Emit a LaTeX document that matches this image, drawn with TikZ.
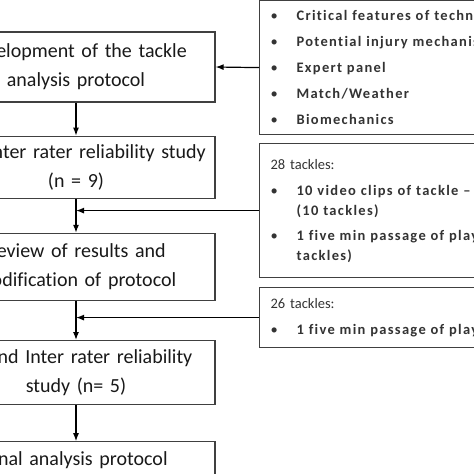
\documentclass[tikz,border=0pt]{standalone}
\usepackage{fontspec}
\setmainfont[Ligatures={TeX,NoCommon}]{Carlito}
\newfontfamily\listfont[LetterSpace=9,Ligatures=NoCommon]{Carlito}
\usetikzlibrary{arrows.meta, positioning}
\tikzstyle{block}=[draw=black!75,line width=1.2pt,fill=white,rectangle,minimum width=278pt,text width=270pt,align=center,inner sep=0pt,text=black!90,font=\fontsize{20}{29}\selectfont]
\tikzstyle{info}=[draw=black!75,line width=1.2pt,rectangle,anchor=north west,text width=400pt,align=left,inner xsep=11pt,inner ysep=0pt,text=black!80,font=\fontsize{14.5}{20}\selectfont]
\newcommand{\bitem}[1]{\makebox[26pt][l]{\textbullet}{\listfont\bfseries #1}}
\newcommand{\bcont}[1]{\hspace*{26pt}{\listfont\bfseries #1}}

\begin{document}
\begin{tikzpicture}[x=1pt,y=-1pt,>={Latex[length=8pt,width=6pt]},line width=1.2pt]
  \useasboundingbox (0,0) rectangle (474,474);
  \clip (0,0) rectangle (474,474);
  % left column
  \node[block, minimum height=70pt] at (76,67) (dev) {Development of the tackle\\analysis protocol};
  \node[block, minimum height=62pt, below=33pt of dev] (first) {First Inter rater reliability study\\(n = 9)};
  \node[block, minimum height=67pt, below=34pt of first] (review) {Review of results and\\modification of protocol};
  \node[block, minimum height=64pt, below=39pt of review] (second) {Second Inter rater reliability\\study (n= 5)};
  \node[block, minimum height=36pt, below=36pt of second] (final) {Final analysis protocol};
  % right column
  \node[info, minimum height=134pt] at (259,0) (sources) {\bitem{Critical features of technique}\\[6pt]
    \bitem{Potential injury mechanisms}\\[6pt]
    \bitem{Expert panel}\\[6pt]
    \bitem{Match/Weather}\\[6pt]
    \bitem{Biomechanics}};
  \node[info, minimum height=134pt] at (259,143) (set1) {28 tackles:\\[6pt]
    \bitem{10 video clips of tackle –}\\
    \bcont{(10 tackles)}\\[5pt]
    \bitem{1 five min passage of play (18}\\
    \bcont{tackles)}};
  \node[info, minimum height=60pt] at (259,287) (set2) {26 tackles:\\[6pt]
    \bitem{1 five min passage of play (26 tackles)}};
  \draw[->] (dev) -- (first);
  \draw[->] (first) -- (review);
  \draw[->] (review) -- (second);
  \draw[->] (second) -- (final);
  \draw[->] (sources.west) -- (dev.east);
  \draw[->] (set1.west) -- (set1.west -| first.south);
  \draw[->] (set2.west) -- (set2.west -| review.south);
\end{tikzpicture}
\end{document}
